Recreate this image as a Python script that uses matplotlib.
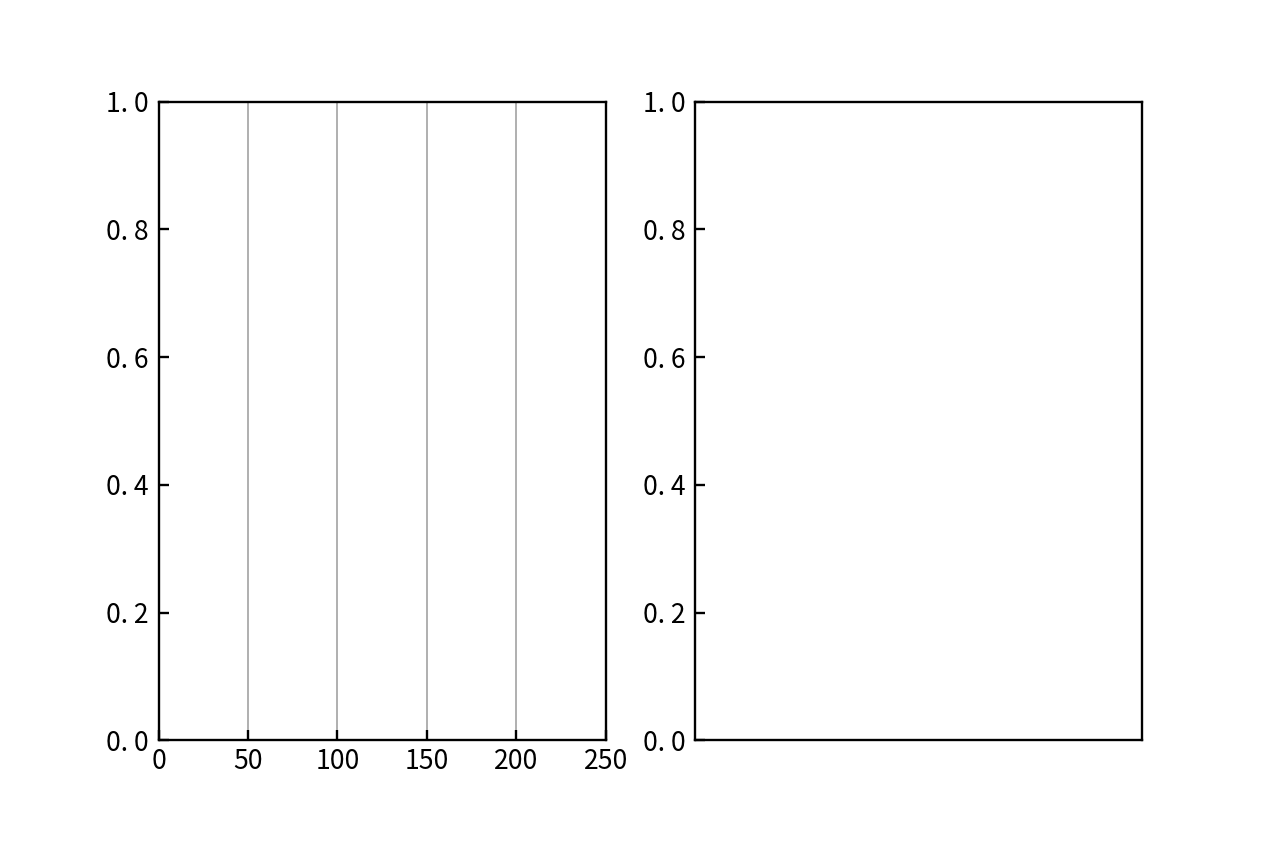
import numpy as np
import matplotlib
matplotlib.use("Agg")
import matplotlib.pyplot as plt

plt.rcParams['font.family'] = ['Noto Sans CJK SC', 'DejaVu Sans']
plt.rcParams['xtick.direction'] = 'in'
plt.rcParams['ytick.direction'] = 'in'

# datos
x_ticks = [0, 50, 100, 150, 200, 250]
y_ticks = [0.0, 0.2, 0.4, 0.6, 0.8, 1.0]
y_labels = ['0. 0', '0. 2', '0. 4', '0. 6', '0. 8', '1. 0']
x_lim = (0, 250)
y_lim = (0, 1)

fig, (ax1, ax2) = plt.subplots(1, 2, figsize=(9, 6), dpi=141)
fig.subplots_adjust(left=0.125, right=0.9, bottom=0.125, top=0.88, wspace=0.2)

for ax in (ax1, ax2):
    ax.set_ylim(*y_lim)
    ax.set_yticks(y_ticks)
    ax.set_yticklabels(y_labels)
    for s in ax.spines.values():
        s.set_linewidth(1.2)
    ax.tick_params(labelsize=13.5, width=1.2, length=5, pad=5)

ax1.set_xlim(*x_lim)
ax1.set_xticks(x_ticks)
ax1.grid(True, axis='x', color='#b0b0b0', linewidth=1.0)
ax1.tick_params(axis='x', pad=4)

ax2.set_xticks([])

fig.savefig("out.png", dpi=141)
